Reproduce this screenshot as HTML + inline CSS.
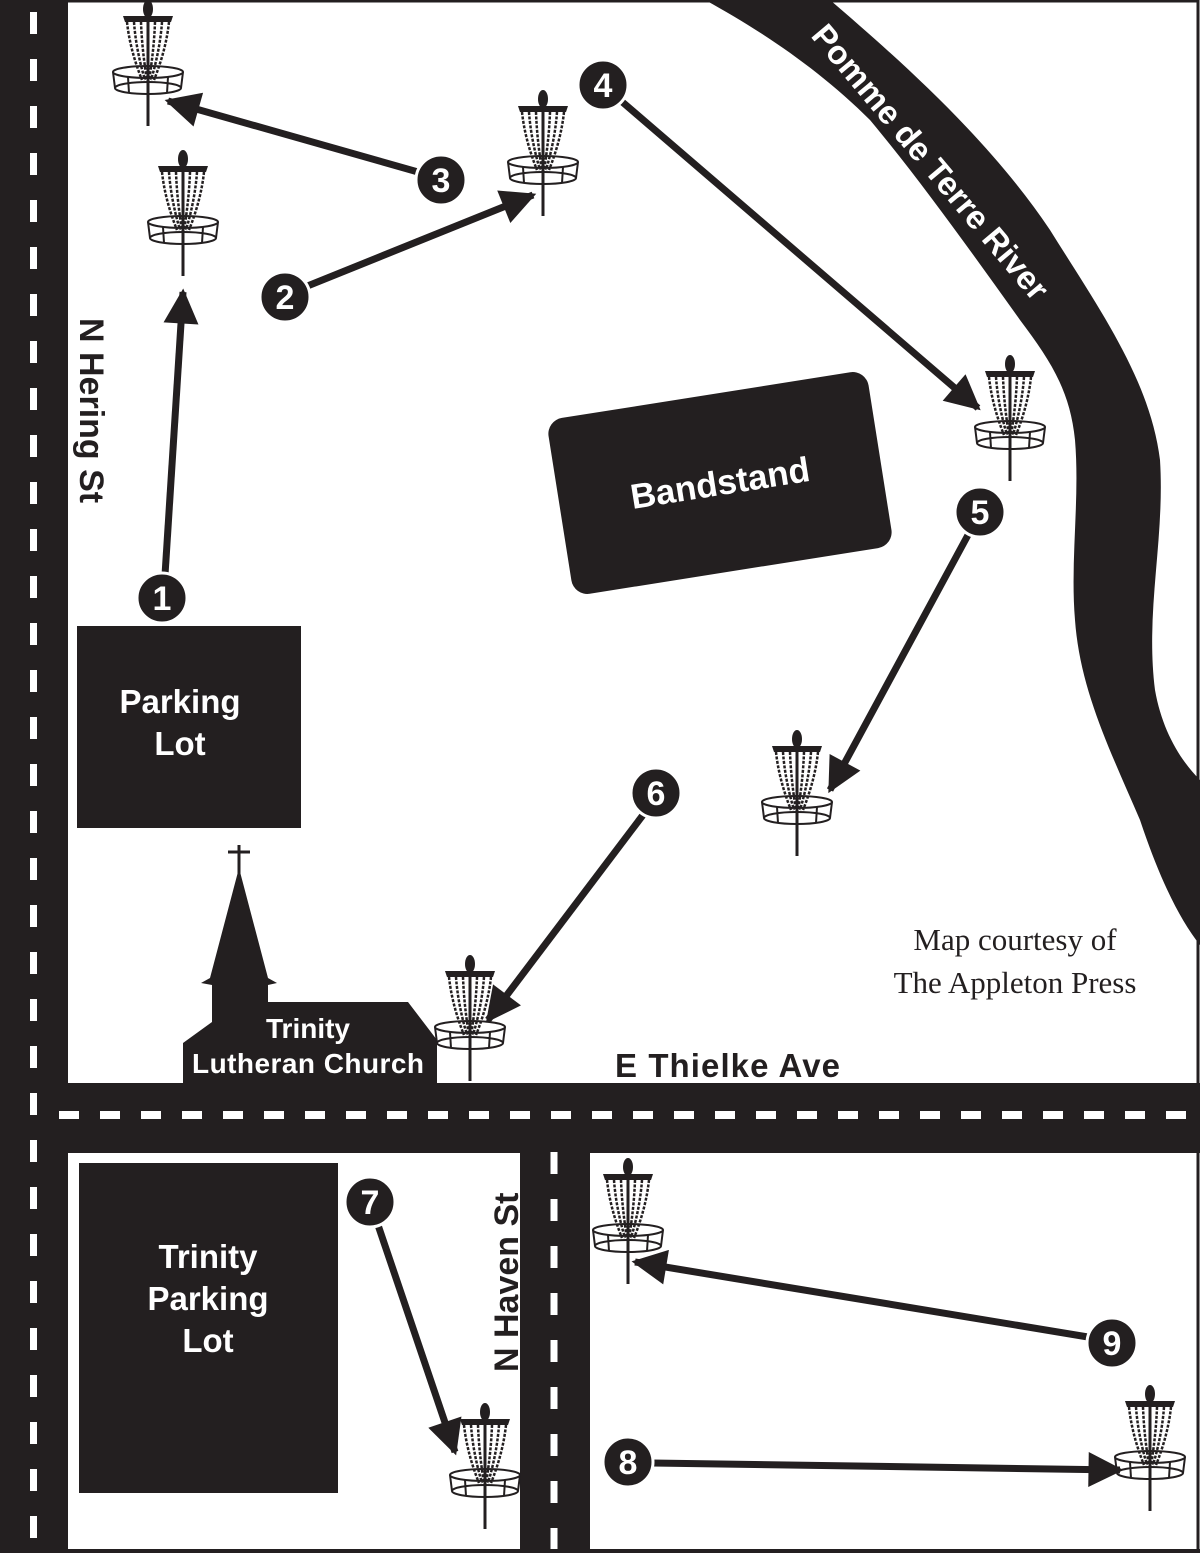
<!DOCTYPE html>
<html><head><meta charset="utf-8"><style>
html,body{margin:0;padding:0;background:#fff}
svg{display:block}
.b{font-family:"Liberation Sans",sans-serif;font-weight:bold;fill:#fff}
.n{font-family:"Liberation Sans",sans-serif;font-weight:bold;fill:#fff;font-size:34px;text-anchor:middle}
.k{font-family:"Liberation Sans",sans-serif;font-weight:bold;fill:#231f20}
</style></head><body>
<svg width="1200" height="1553" viewBox="0 0 1200 1553" xmlns="http://www.w3.org/2000/svg">
<defs>
<symbol id="bk" viewBox="-40 0 80 126" overflow="visible">
  <g stroke="#231f20" fill="none">
    <ellipse cx="0" cy="9" rx="5" ry="9" fill="#231f20" stroke="none"/>
    <path d="M-25 16 H25 L23 22 H-23 Z" fill="#231f20" stroke="none"/>
    <line x1="0" y1="16" x2="0" y2="126" stroke-width="3"/>
    <g stroke-width="2.5" stroke-dasharray="3 1.5">
      <path d="M-21 22 Q-18 50 -6 80"/>
      <path d="M-14 22 Q-12 50 -3 80"/>
      <path d="M-7 22 Q-6 50 -1 80"/>
      <path d="M21 22 Q18 50 6 80"/>
      <path d="M14 22 Q12 50 3 80"/>
      <path d="M7 22 Q6 50 1 80"/>
    </g>
    <ellipse cx="0" cy="72" rx="35" ry="6" stroke-width="2"/>
    <ellipse cx="0" cy="88" rx="33" ry="6" stroke-width="2"/>
    <line x1="-35" y1="72" x2="-33" y2="88" stroke-width="2"/>
    <line x1="35" y1="72" x2="33" y2="88" stroke-width="2"/>
    <line x1="-20" y1="77" x2="-19" y2="93" stroke-width="2"/>
    <line x1="20" y1="77" x2="19" y2="93" stroke-width="2"/>
  </g>
</symbol>
<marker id="ah" viewBox="0 0 10 10" refX="9" refY="5" markerWidth="5.5" markerHeight="5" orient="auto" markerUnits="strokeWidth">
  <path d="M0 0 L10 5 L0 10 Z" fill="#231f20"/>
</marker>
</defs>

<rect x="1" y="1" width="1197" height="1550" fill="none" stroke="#231f20" stroke-width="3"/>

<!-- river -->
<path d="M705 0 L830 0 C900 60 990 140 1050 230 C1100 310 1150 380 1160 460 C1165 540 1145 610 1155 690 C1162 730 1180 760 1200 780 L1200 945 C1180 920 1160 880 1140 820 C1110 750 1080 690 1075 620 C1070 560 1080 500 1075 440 C1070 390 1050 360 1020 320 C970 250 920 180 870 120 C820 70 760 30 705 0 Z" fill="#231f20"/>
<text class="b" font-size="33" transform="translate(810,36) rotate(50)">Pomme de Terre River</text>

<!-- roads -->
<rect x="0" y="0" width="68" height="1553" fill="#231f20"/>
<rect x="0" y="1083" width="1200" height="70" fill="#231f20"/>
<line x1="59" y1="1115" x2="1200" y2="1115" stroke="#fff" stroke-width="8" stroke-dasharray="20 21"/>
<line x1="33.5" y1="12" x2="33.5" y2="1553" stroke="#fff" stroke-width="7" stroke-dasharray="22 25"/>
<rect x="520" y="1153" width="70" height="400" fill="#231f20"/>
<line x1="554" y1="1152" x2="554" y2="1553" stroke="#fff" stroke-width="7" stroke-dasharray="22 25"/>
<rect x="0" y="1549" width="1200" height="4" fill="#231f20"/>

<!-- street labels -->
<text class="k" font-size="34" transform="translate(80,318) rotate(90)">N Hering St</text>
<text class="k" font-size="34" transform="translate(518,1372) rotate(-90)">N Haven St</text>
<text class="k" font-size="33" x="615" y="1077" textLength="225">E Thielke Ave</text>

<!-- bandstand -->
<g transform="translate(720,483) rotate(-9)">
  <rect x="-162" y="-89" width="324" height="178" rx="16" fill="#231f20"/>
  <text class="b" font-size="35" x="0" y="12" text-anchor="middle">Bandstand</text>
</g>

<rect x="77" y="626" width="224" height="202" fill="#231f20"/>
<text class="b" font-size="33" x="180" y="713" text-anchor="middle">Parking</text>
<text class="b" font-size="33" x="180" y="755" text-anchor="middle">Lot</text>

<rect x="79" y="1163" width="259" height="330" fill="#231f20"/>
<text class="b" font-size="33" x="208" y="1268" text-anchor="middle">Trinity</text>
<text class="b" font-size="33" x="208" y="1310" text-anchor="middle">Parking</text>
<text class="b" font-size="33" x="208" y="1352" text-anchor="middle">Lot</text>

<!-- church -->
<line x1="239" y1="845" x2="239" y2="874" stroke="#231f20" stroke-width="3"/>
<line x1="228" y1="852" x2="250" y2="852" stroke="#231f20" stroke-width="3"/>
<path d="M239 868 L268 978 L277 983 L268 985 L268 1002 L408 1002 L437 1040 L437 1083 L183 1083 L183 1043 L212 1022 L212 985 L201 983 L210 978 Z" fill="#231f20"/>
<text class="b" font-size="28" x="308" y="1038" text-anchor="middle">Trinity</text>
<text class="b" font-size="28" x="308" y="1073" text-anchor="middle" textLength="232">Lutheran Church</text>

<text x="1015" y="950" font-family="Liberation Serif,serif" font-size="31" text-anchor="middle" fill="#231f20">Map courtesy of</text>
<text x="1015" y="993" font-family="Liberation Serif,serif" font-size="31" text-anchor="middle" fill="#231f20">The Appleton Press</text>

<use href="#bk" x="108" y="0" width="80" height="126"/>
<use href="#bk" x="143" y="150" width="80" height="126"/>
<use href="#bk" x="503" y="90" width="80" height="126"/>
<use href="#bk" x="970" y="355" width="80" height="126"/>
<use href="#bk" x="757" y="730" width="80" height="126"/>
<use href="#bk" x="430" y="955" width="80" height="126"/>
<use href="#bk" x="588" y="1158" width="80" height="126"/>
<use href="#bk" x="445" y="1403" width="80" height="126"/>
<use href="#bk" x="1110" y="1385" width="80" height="126"/>

<g stroke="#231f20" stroke-width="7" marker-end="url(#ah)" fill="none">
  <line x1="165" y1="575" x2="183" y2="292"/>
  <line x1="305" y1="287" x2="533" y2="195"/>
  <line x1="418" y1="172" x2="168" y2="101"/>
  <line x1="620" y1="100" x2="978" y2="408"/>
  <line x1="968" y1="535" x2="830" y2="790"/>
  <line x1="643" y1="815" x2="488" y2="1020"/>
  <line x1="378" y1="1225" x2="455" y2="1452"/>
  <line x1="652" y1="1463" x2="1120" y2="1470"/>
  <line x1="1088" y1="1337" x2="635" y2="1262"/>
</g>

<g stroke="#fff" stroke-width="3" fill="#231f20">
  <circle cx="162" cy="598" r="25"/>
  <circle cx="285" cy="297" r="25"/>
  <circle cx="441" cy="180" r="25"/>
  <circle cx="603" cy="85" r="25"/>
  <circle cx="980" cy="512" r="25"/>
  <circle cx="656" cy="793" r="25"/>
  <circle cx="370" cy="1202" r="25"/>
  <circle cx="628" cy="1462" r="25"/>
  <circle cx="1112" cy="1343" r="25"/>
</g>
<text class="n" x="162" y="610">1</text>
<text class="n" x="285" y="309">2</text>
<text class="n" x="441" y="192">3</text>
<text class="n" x="603" y="97">4</text>
<text class="n" x="980" y="524">5</text>
<text class="n" x="656" y="805">6</text>
<text class="n" x="370" y="1214">7</text>
<text class="n" x="628" y="1474">8</text>
<text class="n" x="1112" y="1355">9</text>
</svg>
</body></html>
